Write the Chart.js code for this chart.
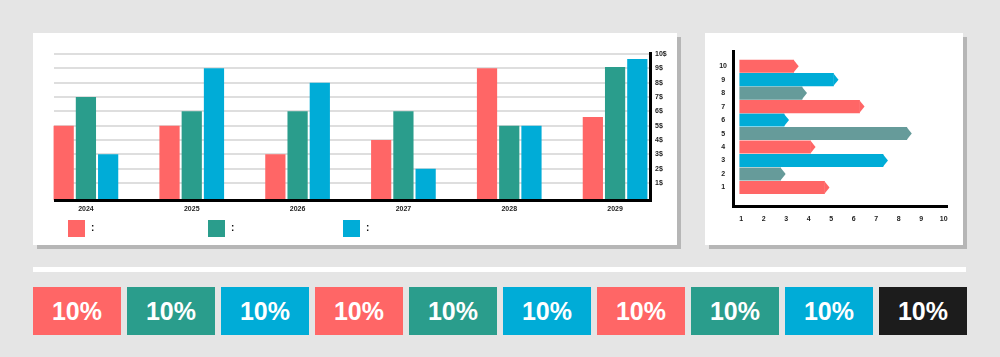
<!DOCTYPE html>
<html>
<head>
<meta charset="utf-8">
<script src="https://cdn.jsdelivr.net/npm/chart.js@4.4.1/dist/chart.umd.min.js"></script>
<style>
  body { margin: 0; width: 1000px; height: 357px; background: #e5e5e5; position: relative; overflow: hidden; font-family: "Liberation Sans", Arial, sans-serif; }
  .panel { position: absolute; background: #fff; box-shadow: 4px 4px 0 #b6b6b6; }
  .legend-box { position: absolute; width: 17px; height: 17px; }
  .legend-colon { position: absolute; font-size: 10px; font-weight: bold; color: #111; }
  .rule { position: absolute; left: 33px; top: 267px; width: 933px; height: 5px; background: #fff; }
  .tile { position: absolute; top: 287px; width: 88px; height: 48px; color: #fff; font-weight: bold; font-size: 25px; display: flex; align-items: center; justify-content: center; }
</style>
</head>
<body>
<div class="panel" id="leftPanel" style="left:33px;top:33px;width:644px;height:212px">
  <canvas id="barChart"></canvas>
</div>
<div class="panel" style="left:705px;top:33px;width:258px;height:212px">
  <canvas id="arrowChart"></canvas>
</div>
<div class="rule"></div>
<div id="tiles"></div>

<script>
// ---- data ----
const years = ["2024", "2025", "2026", "2027", "2028", "2029"];
const seriesRed = [5, 5, 3, 4, 9, 5.6];
const seriesTeal = [7, 6, 6, 6, 5, 9.1];
const seriesBlue = [3, 9, 8, 2, 5, 9.65];
const priceTicks = [1, 2, 3, 4, 5, 6, 7, 8, 9, 10];
const priceLabels = ["1$", "2$", "3$", "4$", "5$", "6$", "7$", "8$", "9$", "10$"];

const rows = [1, 2, 3, 4, 5, 6, 7, 8, 9, 10];
const arrowValues = [4.7, 2.75, 7.3, 4.08, 8.36, 2.9, 6.26, 3.7, 5.1, 3.33];
const barStart = 0.93;
const scaleTicks = [1, 2, 3, 4, 5, 6, 7, 8, 9, 10];

const tileLabels = ["10%", "10%", "10%", "10%", "10%", "10%", "10%", "10%", "10%", "10%"];

// ---- colours ----
const RED = "#ff6666";
const TEAL = "#2a9d8c";
const BLUE = "#00acd7";
const SLATE = "#669b9a";
const BLACK = "#1c1c1c";
const FONT = "'Liberation Sans', Arial, sans-serif";
const yFloor = -0.22;

// grid, right axis and $ labels for the grouped bars
const priceAxis = {
  id: "priceAxis",
  beforeDatasetsDraw(chart) {
    const { ctx, scales: { y } } = chart;
    ctx.save();
    ctx.strokeStyle = "#dedede";
    ctx.lineWidth = 2;
    priceTicks.forEach(v => {
      const py = Math.round(y.getPixelForValue(v));
      ctx.beginPath();
      ctx.moveTo(21, py);
      ctx.lineTo(617, py);
      ctx.stroke();
    });
    ctx.restore();
  },
  afterDatasetsDraw(chart) {
    const { ctx, chartArea, scales: { y } } = chart;
    ctx.save();
    ctx.strokeStyle = "#000";
    ctx.lineWidth = 3;
    ctx.beginPath();
    ctx.moveTo(21, chartArea.bottom);
    ctx.lineTo(619, chartArea.bottom);
    ctx.moveTo(617.5, chartArea.top);
    ctx.lineTo(617.5, chartArea.bottom);
    ctx.stroke();
    ctx.fillStyle = "#222";
    ctx.font = "bold 7px " + FONT;
    ctx.textAlign = "left";
    ctx.textBaseline = "middle";
    priceTicks.forEach((v, i) => ctx.fillText(priceLabels[i], 622, y.getPixelForValue(v)));
    ctx.restore();
  }
};

new Chart(document.getElementById("barChart"), {
  type: "bar",
  data: {
    labels: years,
    datasets: [
      { label: "", data: seriesRed, backgroundColor: RED },
      { label: "", data: seriesTeal, backgroundColor: TEAL },
      { label: "", data: seriesBlue, backgroundColor: BLUE }
    ]
  },
  options: {
    responsive: true,
    maintainAspectRatio: false,
    animation: false,
    layout: { padding: { top: 19, right: 9, bottom: 24.5, left: 0 } },
    datasets: { bar: { categoryPercentage: 0.63, barPercentage: 0.91, base: yFloor } },
    plugins: { legend: { display: false }, tooltip: { enabled: false } },
    scales: {
      x: {
        grid: { display: false, drawTicks: false },
        border: { display: false },
        ticks: { color: "#222", padding: 4, font: { family: FONT, size: 7, weight: "bold" } },
        afterFit: s => { s.height = 20; }
      },
      y: { display: false, min: yFloor, max: 10.14 }
    }
  },
  plugins: [priceAxis]
});

// legend squares under the grouped bars
const legendPanel = document.getElementById("leftPanel");
[RED, TEAL, BLUE].forEach((c, i) => {
  const x = [35, 175, 310][i];
  const box = document.createElement("div");
  box.className = "legend-box";
  box.style.cssText = `left:${x}px;top:187px;background:${c}`;
  const colon = document.createElement("div");
  colon.className = "legend-colon";
  colon.style.cssText = `left:${x + 23}px;top:189px`;
  colon.textContent = ":";
  legendPanel.appendChild(box);
  legendPanel.appendChild(colon);
});

// arrow heads on the horizontal bars
const arrowTips = {
  id: "arrowTips",
  afterDatasetsDraw(chart) {
    const { ctx } = chart;
    chart.getDatasetMeta(0).data.forEach(bar => {
      const { x, y, height } = bar.getProps(["x", "y", "height"], true);
      ctx.save();
      ctx.fillStyle = bar.options.backgroundColor;
      ctx.beginPath();
      ctx.moveTo(x, y - height / 2);
      ctx.lineTo(x + 5, y);
      ctx.lineTo(x, y + height / 2);
      ctx.closePath();
      ctx.fill();
      ctx.restore();
    });
  }
};

const tickFont = { family: FONT, size: 7, weight: "bold" };

new Chart(document.getElementById("arrowChart"), {
  type: "bar",
  data: {
    datasets: [{
      data: rows.map((r, i) => ({ y: r, x: [barStart, arrowValues[i]] })),
      backgroundColor: [RED, SLATE, BLUE, RED, SLATE, BLUE, RED, SLATE, BLUE, RED],
      barThickness: 12.4
    }]
  },
  options: {
    indexAxis: "y",
    responsive: true,
    maintainAspectRatio: false,
    animation: false,
    layout: { padding: { top: 18.7, right: 16, bottom: 17, left: 0 } },
    plugins: { legend: { display: false }, tooltip: { enabled: false } },
    scales: {
      x: {
        type: "linear",
        min: 0.63,
        max: 10.15,
        grid: { display: false, drawTicks: false },
        border: { color: "#000", width: 3 },
        ticks: { color: "#222", padding: 9, font: tickFont },
        afterBuildTicks: s => { s.ticks = scaleTicks.map(v => ({ value: v })); },
        afterFit: s => { s.height = 22; }
      },
      y: {
        type: "linear",
        min: 0.2,
        max: 10.5,
        grid: { display: false, drawTicks: false },
        border: { color: "#000", width: 3 },
        ticks: { color: "#222", padding: 6, crossAlign: "center", font: tickFont },
        afterBuildTicks: s => { s.ticks = rows.map(v => ({ value: v })); },
        afterFit: s => { s.width = 28; }
      }
    }
  },
  plugins: [arrowTips]
});

// percentage tiles
const tileColors = [RED, TEAL, BLUE, RED, TEAL, BLUE, RED, TEAL, BLUE, BLACK];
const tiles = document.getElementById("tiles");
tileLabels.forEach((t, i) => {
  const d = document.createElement("div");
  d.className = "tile";
  d.style.left = (33 + i * 94) + "px";
  d.style.background = tileColors[i];
  d.textContent = t;
  tiles.appendChild(d);
});
</script>
</body>
</html>
